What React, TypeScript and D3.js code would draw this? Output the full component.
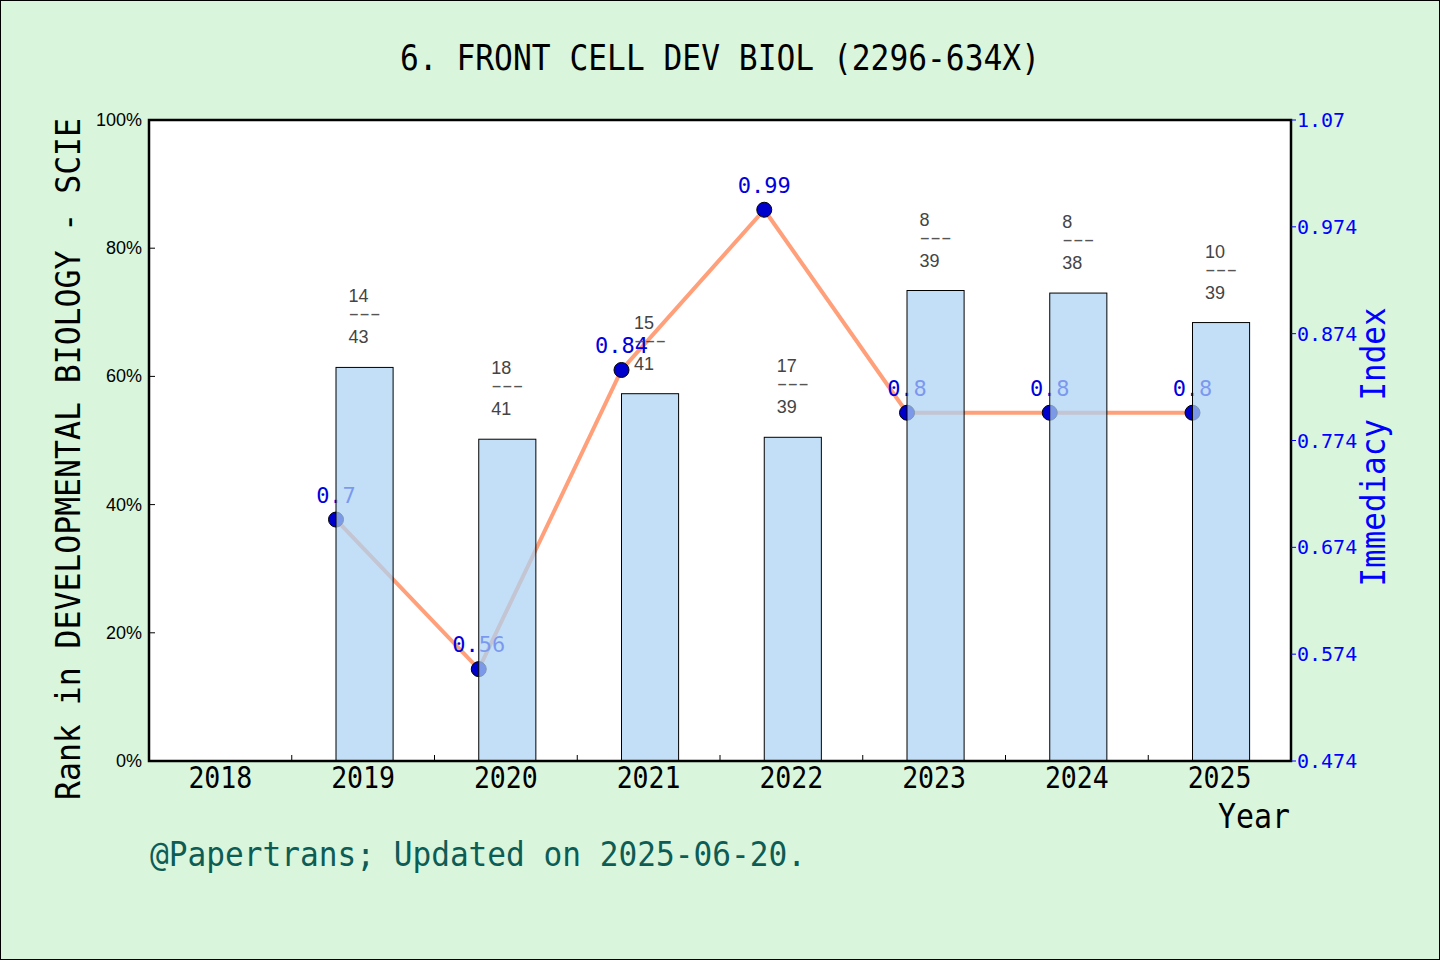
import React, { useEffect, useRef } from 'react';
import * as d3 from 'd3';

const years = ['2018', '2019', '2020', '2021', '2022', '2023', '2024', '2025'];
// rank percentage (bar height), null = no data
const rankPct: (number | null)[] = [null, 61.4, 50.2, 57.3, 50.5, 73.4, 73.0, 68.4];
const rankNum: (number | null)[] = [null, 14, 18, 15, 17, 8, 8, 10];
const rankTotal: (number | null)[] = [null, 43, 41, 41, 39, 39, 38, 39];
const immediacy: (number | null)[] = [null, 0.7, 0.56, 0.84, 0.99, 0.8, 0.8, 0.8];
const immediacyLabels: (string | null)[] = [null, '0.7', '0.56', '0.84', '0.99', '0.8', '0.8', '0.8'];
const leftTicks = [0, 20, 40, 60, 80, 100];
const rightTicks = [0.474, 0.574, 0.674, 0.774, 0.874, 0.974, 1.074];
const rightTickLabels = ['0.474', '0.574', '0.674', '0.774', '0.874', '0.974', '1.07'];

const W = 1440;
const H = 960;
const MONO = '"DejaVu Sans Mono", monospace';
const SANS = '"Liberation Sans", Arial, sans-serif';

const App: React.FC = () => {
  const svgRef = useRef<SVGSVGElement>(null);

  useEffect(() => {
    const svg = d3.select(svgRef.current);
    svg.selectAll('*').remove();

    const margin = { top: 120, right: 149, bottom: 199, left: 149 };
    const innerWidth = W - margin.left - margin.right;
    const innerHeight = H - margin.top - margin.bottom;

    // background
    svg.append('rect')
      .attr('x', 0.5).attr('y', 0.5)
      .attr('width', W - 1).attr('height', H - 1)
      .attr('fill', '#d9f6dc')
      .attr('stroke', '#000')
      .attr('stroke-width', 1);

    const g = svg.append('g')
      .attr('transform', `translate(${margin.left},${margin.top})`);

    const xScale = d3.scaleBand()
      .domain(years)
      .range([0, innerWidth])
      .padding(0);
    const bw = xScale.bandwidth();
    const cx = (y: string) => (xScale(y) || 0) + bw / 2;

    const yLeft = d3.scaleLinear().domain([0, 100]).range([innerHeight, 0]);
    const yRight = d3.scaleLinear().domain([0.474, 1.074]).range([innerHeight, 0]);

    g.append('rect')
      .attr('width', innerWidth)
      .attr('height', innerHeight)
      .attr('fill', '#fff');

    // Line (immediacy index)
    const pts = years
      .map((y, i) => ({ year: y, v: immediacy[i], label: immediacyLabels[i] }))
      .filter(d => d.v !== null) as { year: string; v: number; label: string }[];
    // points sit on the left edge of each bar
    const px = (y: string) => cx(y) - bw * 0.19;

    const line = d3.line<{ year: string; v: number }>()
      .x(d => px(d.year))
      .y(d => yRight(d.v));

    g.append('path')
      .datum(pts)
      .attr('d', line)
      .attr('fill', 'none')
      .attr('stroke', '#ffa07a')
      .attr('stroke-width', 4);

    g.selectAll('.pt')
      .data(pts)
      .enter()
      .append('circle')
      .attr('class', 'pt')
      .attr('cx', d => px(d.year))
      .attr('cy', d => yRight(d.v))
      .attr('r', 7.5)
      .attr('fill', '#0000cd')
      .attr('stroke', '#000')
      .attr('stroke-width', 1);

    g.selectAll('.pt-label')
      .data(pts)
      .enter()
      .append('text')
      .attr('class', 'pt-label')
      .attr('x', d => px(d.year))
      .attr('y', d => yRight(d.v) - 17)
      .attr('text-anchor', 'middle')
      .style('font-family', MONO)
      .style('font-size', '22px')
      .style('fill', '#0000dd')
      .text(d => d.label);

    // Bars drawn over the line, semi transparent
    const bars = years
      .map((y, i) => ({ year: y, v: rankPct[i], n: rankNum[i], t: rankTotal[i] }))
      .filter(d => d.v !== null) as { year: string; v: number; n: number; t: number }[];

    g.selectAll('.bar')
      .data(bars)
      .enter()
      .append('rect')
      .attr('class', 'bar')
      .attr('x', d => px(d.year))
      .attr('y', d => yLeft(d.v))
      .attr('width', bw * 0.4)
      .attr('height', d => innerHeight - yLeft(d.v))
      .attr('fill', 'rgb(172,211,244)')
      .attr('fill-opacity', 0.72)
      .attr('stroke', '#000')
      .attr('stroke-width', 1);

    // Rank annotations
    const ann = g.selectAll('.ann')
      .data(bars)
      .enter()
      .append('g')
      .attr('class', 'ann')
      .attr('transform', d => `translate(${px(d.year) + bw * 0.2 - 16},${yLeft(d.v)})`);
    ann.append('text')
      .attr('y', -65)
      .style('font-family', SANS)
      .style('font-size', '18px')
      .style('fill', '#444')
      .text(d => String(d.n));
    ann.append('text')
      .attr('y', -47)
      .attr('textLength', 32)
      .attr('lengthAdjust', 'spacingAndGlyphs')
      .style('font-family', SANS)
      .style('font-size', '18px')
      .style('fill', '#555')
      .text('---');
    ann.append('text')
      .attr('y', -24)
      .style('font-family', SANS)
      .style('font-size', '18px')
      .style('fill', '#444')
      .text(d => String(d.t));

    // Frame
    g.append('rect')
      .attr('width', innerWidth)
      .attr('height', innerHeight)
      .attr('fill', 'none')
      .attr('stroke', '#000')
      .attr('stroke-width', 2.5);

    // Left axis
    const left = g.append('g');
    left.selectAll('line')
      .data(leftTicks.slice(1, -1))
      .enter()
      .append('line')
      .attr('x1', 0).attr('x2', 6)
      .attr('y1', d => yLeft(d)).attr('y2', d => yLeft(d))
      .attr('stroke', '#000');
    left.selectAll('text')
      .data(leftTicks)
      .enter()
      .append('text')
      .attr('x', -7)
      .attr('y', d => yLeft(d) + 6)
      .attr('text-anchor', 'end')
      .style('font-family', SANS)
      .style('font-size', '18px')
      .style('fill', '#000')
      .text(d => `${d}%`);

    // X axis
    const xAx = g.append('g');
    xAx.selectAll('line')
      .data(years.slice(1))
      .enter()
      .append('line')
      .attr('x1', d => xScale(d) || 0).attr('x2', d => xScale(d) || 0)
      .attr('y1', innerHeight).attr('y2', innerHeight - 6)
      .attr('stroke', '#000');
    xAx.selectAll('text')
      .data(years)
      .enter()
      .append('text')
      .attr('x', d => cx(d))
      .attr('y', innerHeight + 27)
      .attr('text-anchor', 'middle')
      .attr('textLength', 64)
      .attr('lengthAdjust', 'spacingAndGlyphs')
      .style('font-family', MONO)
      .style('font-size', '30px')
      .style('fill', '#000')
      .text(d => d);

    // Right axis
    const right = g.append('g').attr('transform', `translate(${innerWidth},0)`);
    right.selectAll('line')
      .data(rightTicks)
      .enter()
      .append('line')
      .attr('x1', 0).attr('x2', 5)
      .attr('y1', d => yRight(d)).attr('y2', d => yRight(d))
      .attr('stroke', '#0000ff');
    right.selectAll('text')
      .data(rightTicks)
      .enter()
      .append('text')
      .attr('x', 6)
      .attr('y', d => yRight(d) + 7)
      .style('font-family', MONO)
      .style('font-size', '20px')
      .style('fill', '#0000ff')
      .text((d, i) => rightTickLabels[i]);

    // Titles
    svg.append('text')
      .attr('x', 720).attr('y', 70)
      .attr('text-anchor', 'middle')
      .attr('textLength', 640)
      .attr('lengthAdjust', 'spacingAndGlyphs')
      .style('font-family', MONO)
      .style('font-size', '35px')
      .style('fill', '#000')
      .text('6. FRONT CELL DEV BIOL (2296-634X)');

    svg.append('text')
      .attr('transform', 'translate(80,459) rotate(-90)')
      .attr('text-anchor', 'middle')
      .attr('textLength', 682)
      .attr('lengthAdjust', 'spacingAndGlyphs')
      .style('font-family', MONO)
      .style('font-size', '34px')
      .style('fill', '#000')
      .text('Rank in DEVELOPMENTAL BIOLOGY - SCIE');

    svg.append('text')
      .attr('transform', 'translate(1385,447) rotate(-90)')
      .attr('text-anchor', 'middle')
      .attr('textLength', 279)
      .attr('lengthAdjust', 'spacingAndGlyphs')
      .style('font-family', MONO)
      .style('font-size', '34px')
      .style('fill', '#0000ff')
      .text('Immediacy Index');

    svg.append('text')
      .attr('x', 1218).attr('y', 828)
      .attr('textLength', 72)
      .attr('lengthAdjust', 'spacingAndGlyphs')
      .style('font-family', MONO)
      .style('font-size', '34px')
      .style('fill', '#000')
      .text('Year');

    svg.append('text')
      .attr('x', 150).attr('y', 866)
      .attr('textLength', 656)
      .attr('lengthAdjust', 'spacingAndGlyphs')
      .style('font-family', MONO)
      .style('font-size', '34px')
      .style('fill', '#0d5c55')
      .text('@Papertrans; Updated on 2025-06-20.');
  }, []);

  return (
    <div style={{ position: 'absolute', left: 0, top: 0 }}>
      <svg ref={svgRef} width={W} height={H} style={{ display: 'block' }} />
    </div>
  );
};

export default App;
